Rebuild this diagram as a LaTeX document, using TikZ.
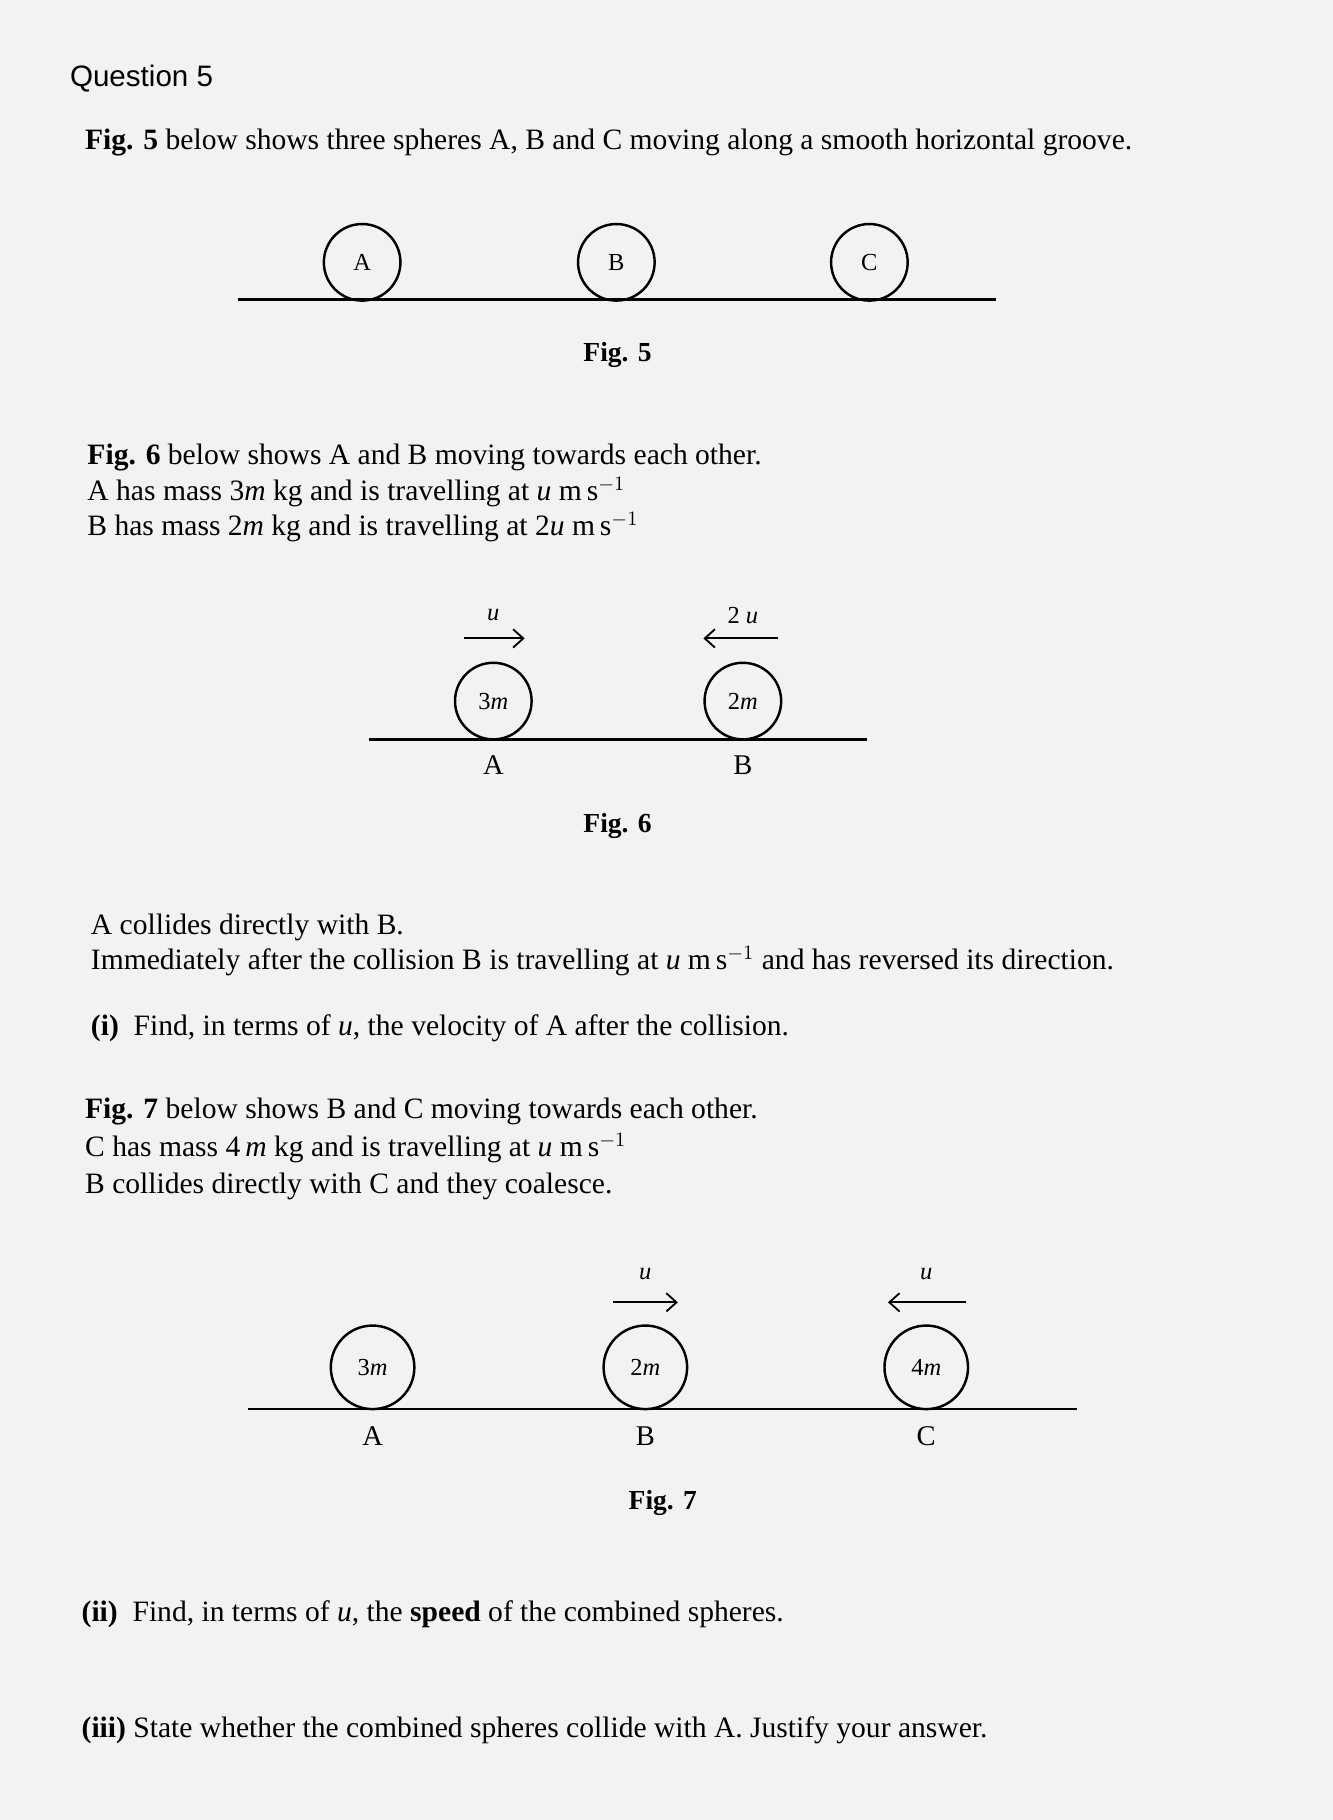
\documentclass[tikz,border=0pt]{standalone}
\usepackage{fontspec}
\setmainfont{Liberation Serif}
\newfontfamily\qsans{Liberation Sans}
\usetikzlibrary{arrows.meta}
\newcommand{\uu}{\textit{u}}
\newcommand{\mm}{\textit{m}}
\newcommand{\msi}{m\,s$^{-1}$}
\begin{document}
\begin{tikzpicture}[x=0.02cm,y=-0.02cm,
  txt/.style={anchor=west,inner sep=0pt,font=\fontsize{14.5}{17}\selectfont},
  ball/.style={circle,draw,line width=1.2pt,minimum size=1.32cm,inner sep=0pt,font=\fontsize{12}{14}\selectfont},
  bigball/.style={ball,minimum size=1.44cm},
  lbl/.style={font=\fontsize{14}{17}\selectfont,inner sep=0pt},
  figl/.style={font=\bfseries\fontsize{13.5}{16}\selectfont,inner sep=0pt},
  vel/.style={font=\itshape\fontsize{12}{14}\selectfont,inner sep=0pt},
  ground/.style={line width=1.2pt},
  varr/.style={-{Straight Barb[length=5pt,width=9pt]},line width=0.9pt}]
\fill[gray!10] (0,0) rectangle (1148,1568);
\useasboundingbox (0,0) rectangle (1148,1568);
\node[txt,font=\qsans\fontsize{14.5}{17}\selectfont] (q) at (60,68) {Question 5};
\node[txt] (t1) at (73,123) {\textbf{Fig. 5} below shows three spheres A, B and C moving along a smooth horizontal groove.};
% Fig 5
\coordinate (g5a) at (205,258); \coordinate (g5b) at (858,258);
\draw[ground] (g5a) -- (g5b);
\node[ball] (A5) at (312,226) {A};
\node[ball] (B5) at (531,226) {B};
\node[ball] (C5) at (749,226) {C};
\node[figl] (f5) at (532,306) {Fig. 5};
% text
\node[txt] (t2) at (75,394) {\textbf{Fig. 6} below shows A and B moving towards each other.};
\node[txt] (t3) at (75,424) {A has mass 3\mm{} kg and is travelling at \uu{} \msi};
\node[txt] (t4) at (75,454) {B has mass 2\mm{} kg and is travelling at 2\uu{} \msi};
% Fig 6
\coordinate (g6a) at (318,637); \coordinate (g6b) at (747,637);
\draw[ground] (g6a) -- (g6b);
\node[ball] (A6) at (425,604) {3\textit{m}};
\node[ball] (B6) at (640,604) {2\textit{m}};
\node[lbl] (la6) at (425,659) {A};
\node[lbl] (lb6) at (640,659) {B};
\node[vel] (ua6) at (425,530) {u};
\node[vel] (ub6) at (640,530) {\upshape2 \itshape u};
\coordinate (a6s) at (400,550); \coordinate (a6e) at (452,550);
\coordinate (b6s) at (670,550); \coordinate (b6e) at (606,550);
\draw[varr] (a6s) -- (a6e);
\draw[varr] (b6s) -- (b6e);
\node[figl] (f6) at (532,712) {Fig. 6};
\node[txt] (t5) at (78,799) {A collides directly with B.};
\node[txt] (t6) at (78,828) {Immediately after the collision B is travelling at \uu{} \msi{} and has reversed its direction.};
\node[txt] (t7) at (78,886) {\textbf{(i)}\ \ Find, in terms of \uu, the velocity of A after the collision.};
\node[txt] (t8) at (73,958) {\textbf{Fig. 7} below shows B and C moving towards each other.};
\node[txt] (t9) at (73,989) {C has mass 4\,\mm{} kg and is travelling at \uu{} \msi};
\node[txt] (t10) at (73,1022) {B collides directly with C and they coalesce.};
% Fig 7
\coordinate (g7a) at (214,1214); \coordinate (g7b) at (928,1214);
\draw[ground] (g7a) -- (g7b);
\node[bigball] (A7) at (321,1178) {3\textit{m}};
\node[bigball] (B7) at (556,1178) {2\textit{m}};
\node[bigball] (C7) at (798,1178) {4\textit{m}};
\node[lbl] (la7) at (321,1237) {A};
\node[lbl] (lb7) at (556,1237) {B};
\node[lbl] (lc7) at (798,1237) {C};
\node[vel] (ub7) at (556,1098) {u};
\node[vel] (uc7) at (798,1098) {u};
\coordinate (b7s) at (528,1122); \coordinate (b7e) at (584,1122);
\coordinate (c7s) at (832,1122); \coordinate (c7e) at (765,1122);
\draw[varr] (b7s) -- (b7e);
\draw[varr] (c7s) -- (c7e);
\node[figl] (f7) at (571,1295) {Fig. 7};
\node[txt] (t11) at (70,1391) {\textbf{(ii)}\ \ Find, in terms of \uu, the \textbf{speed} of the combined spheres.};
\node[txt] (t12) at (70,1491) {\textbf{(iii)} State whether the combined spheres collide with A. Justify your answer.};
\end{tikzpicture}
\end{document}
